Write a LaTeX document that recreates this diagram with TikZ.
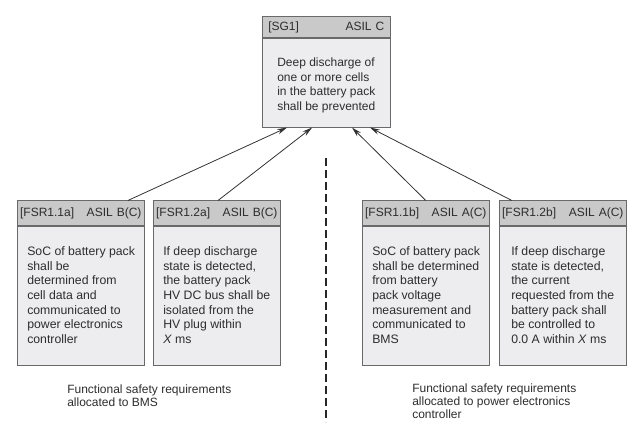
\documentclass[tikz,border=0pt]{standalone}
\usepackage{fontspec}
\setmainfont{Liberation Sans}
\usetikzlibrary{arrows.meta,calc}
\definecolor{hdrgray}{RGB}{201,201,201}
\definecolor{bodygray}{RGB}{237,237,240}
\definecolor{edgegray}{RGB}{105,105,105}
\definecolor{txtgray}{RGB}{45,45,45}
\tikzset{
	hdr/.style={draw=edgegray, fill=hdrgray, anchor=south west, minimum width=95.25pt, minimum height=18.75pt,
		text width=91pt, inner xsep=2.1pt, inner ysep=0pt, align=left, text=txtgray, font=\fontsize{9}{11}\selectfont},
	body/.style={draw=edgegray, fill=bodygray, anchor=north west, minimum width=95.25pt, minimum height=104.25pt},
	txt/.style={anchor=north west, inner sep=0pt, align=left, text=txtgray, font=\fontsize{9.2}{11}\selectfont},
	captxt/.style={anchor=north west, inner sep=0pt, align=left, text=txtgray, font=\fontsize{9}{9.75}\selectfont},
	arr/.style={-{Stealth[length=7.5pt,width=4pt]}, draw=black!80, line width=0.6pt}
}
\begin{document}
\begin{tikzpicture}[x=0.75pt, y=-0.75pt]
		\useasboundingbox (0,0) rectangle (640,428);

		\node[body, minimum width=96pt, minimum height=66.75pt] (sg1) at (262,38) {};
		\node[hdr, minimum width=96pt, minimum height=15.75pt, text width=87pt, inner xsep=4.5pt] (hsg1) at (262,38) {[SG1]\hfill ASIL C};
		\node[txt, font=\fontsize{9}{11}\selectfont] (tsg1) at (277,57.5) {Deep discharge of\\one or more cells\\in the battery pack\\shall be prevented};

		\node[body] (f11a) at (17,226) {};
		\node[hdr] (h11a) at (17,226) {[FSR1.1a]\hfill ASIL B(C)};
		\node[txt] (t11a) at (27,246.5) {SoC of battery pack\\shall be\\determined from\\cell data and\\communicated to\\power electronics\\controller};

		\node[body] (f12a) at (153,226) {};
		\node[hdr] (h12a) at (153,226) {[FSR1.2a]\hfill ASIL B(C)};
		\node[txt] (t12a) at (163,246.5) {If deep discharge\\state is detected,\\the battery pack\\HV DC bus shall be\\isolated from the\\HV plug within\\\textit{X} ms};

		\node[body] (f11b) at (362,226) {};
		\node[hdr] (h11b) at (362,226) {[FSR1.1b]\hfill ASIL A(C)};
		\node[txt] (t11b) at (372,246.5) {SoC of battery pack\\shall be determined\\from battery\\pack voltage\\measurement and\\communicated to\\BMS};

		\node[body] (f12b) at (499,226) {};
		\node[hdr] (h12b) at (499,226) {[FSR1.2b]\hfill ASIL A(C)};
		\node[txt] (t12b) at (511,246.5) {If deep discharge\\state is detected,\\the current\\requested from the\\battery pack shall\\be controlled to\\0.0 A within \textit{X} ms};

		\draw[arr] ($(h11a.north west)!0.87!(h11a.north east)$) -- ($(sg1.south west)!0.195!(sg1.south east)$);
		\draw[arr] ($(h12a.north west)!0.51!(h12a.north east)$) -- ($(sg1.south west)!0.39!(sg1.south east)$);
		\draw[arr] (h11b.north) -- ($(sg1.south west)!0.70!(sg1.south east)$);
		\draw[arr] ($(h12b.north west)!0.10!(h12b.north east)$) -- ($(sg1.south west)!0.84!(sg1.south east)$);

		\coordinate (dtop) at (326,158);
		\coordinate (dbot) at (326,422);
		\draw[black!85, line width=1pt, dash pattern=on 6pt off 3pt] (dtop) -- (dbot);

		\node[captxt] (capbms) at (67,384.5) {Functional safety requirements\\allocated to BMS};
		\node[captxt] (cappec) at (412,383.5) {Functional safety requirements\\allocated to power electronics\\controller};
\end{tikzpicture}
\end{document}
